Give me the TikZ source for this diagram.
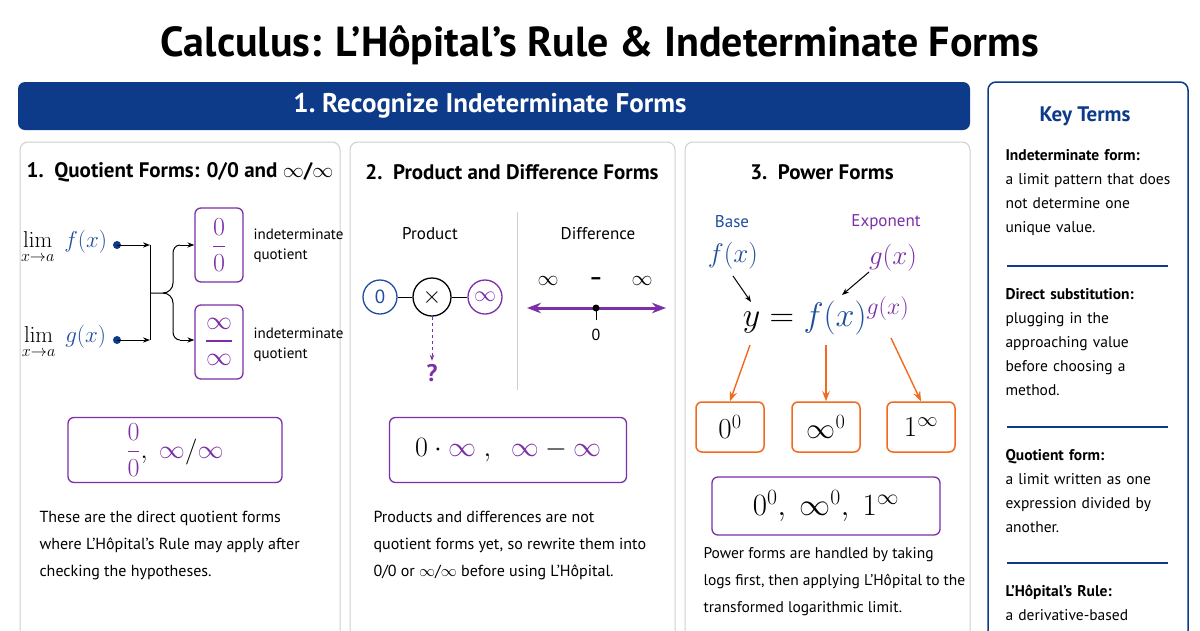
\RequirePackage{fix-cm}
\documentclass[tikz,border=0pt]{standalone}
\usepackage{amsmath,amssymb}
\usepackage[no-math]{fontspec}
\setmainfont{PT Sans}
\usepackage{tikz}
\usetikzlibrary{arrows.meta,positioning}
\definecolor{navy}{HTML}{0E3A8A}
\definecolor{fblue}{HTML}{1F4E9E}
\definecolor{vio}{HTML}{7B2FA8}
\definecolor{org}{HTML}{F26B1D}
\definecolor{pgray}{HTML}{CFCFCF}
\tikzset{
  panel/.style={draw=pgray,line width=1pt,rounded corners=8pt,fill=white},
  formbox/.style={draw=vio,line width=1.3pt,rounded corners=6pt},
  orbox/.style={draw=org,line width=1.5pt,rounded corners=6pt,minimum width=68pt,minimum height=50pt,font=\fontsize{29}{31}\selectfont},
  ptitle/.style={font=\fontsize{21}{24}\selectfont\bfseries},
  body/.style={font=\fontsize{16}{27}\selectfont,align=left,anchor=north west},
  small/.style={font=\fontsize{16}{19}\selectfont},
  term/.style={anchor=north west,align=left,font=\fontsize{15.5}{24}\selectfont,text width=185pt},
  arr/.style={-{Stealth[length=7pt]},line width=1pt},
  oarr/.style={-{Stealth[length=10pt]},line width=1.4pt,draw=org},
}
\begin{document}
\begin{tikzpicture}[x=1pt,y=-1pt]
  \useasboundingbox (0,0) rectangle (1200,630);
  \fill[white] (0,0) rectangle (1200,630);

  % title and banner
  \node[font=\fontsize{42}{46}\selectfont\bfseries] (title) at (600,45) {Calculus: L’Hôpital’s Rule \& Indeterminate Forms};
  \fill[navy,rounded corners=7pt] (18,82) rectangle (970,130);
  \node[white,font=\fontsize{27}{30}\selectfont\bfseries] (banner) at (490,106) {1.\ Recognize Indeterminate Forms};

  % panels
  \draw[panel] (20,142) rectangle (340,640);
  \draw[panel] (350,142) rectangle (675,640);
  \draw[panel] (685,142) rectangle (970,640);
  \draw[draw=navy,line width=1.5pt,rounded corners=8pt] (988,82) rectangle (1188,640);

  % panel 1: quotient forms
  \node[ptitle] (t1) at (180,172) {1.\ \ Quotient Forms: 0/0 and $\infty$/$\infty$};
  \node[font=\fontsize{23}{25}\selectfont] (limf) at (64,247) {$\lim\limits_{x\to a}\ \textcolor{fblue}{f(x)}$};
  \node[font=\fontsize{23}{25}\selectfont] (limg) at (64,342) {$\lim\limits_{x\to a}\ \textcolor{fblue}{g(x)}$};
  \fill[navy] (117,245) circle (4pt) coordinate (df);
  \fill[navy] (117,340) circle (4pt) coordinate (dg);
  \coordinate (jf) at (150,245);
  \coordinate (jg) at (150,340);
  \draw[arr] (df) -- (jf);
  \draw[arr] (dg) -- (jg);
  \draw[line width=1pt] (jf) -- (jg);
  \draw[line width=1pt] (150,293) -- (163,293) to[out=0,in=-90] (173,283) -- (173,253) to[out=90,in=180] (180,245);
  \draw[line width=1pt] (163,293) to[out=0,in=90] (173,303) -- (173,332) to[out=-90,in=180] (180,340);
  \node[formbox,minimum width=48pt,minimum height=74pt,font=\fontsize{26}{28}\selectfont,text=vio] (q1) at (219,245) {$\dfrac{0}{0}$};
  \node[formbox,minimum width=48pt,minimum height=74pt,font=\fontsize{26}{28}\selectfont,text=vio] (q2) at (219,342) {$\dfrac{\infty}{\infty}$};
  \draw[arr] (180,245) -- (q1.west);
  \draw[arr] (180,340) -- (q2.west|-0,340);
  \node[small,anchor=west,align=left,font=\fontsize{15}{20}\selectfont] (l1) at (250,246) {indeterminate\\quotient};
  \node[small,anchor=west,align=left,font=\fontsize{15}{20}\selectfont] (l2) at (250,345) {indeterminate\\quotient};
  \node[formbox,minimum width=214pt,minimum height=65pt,font=\fontsize{26}{28}\selectfont] (f1) at (175,450) {$\textcolor{vio}{\dfrac{0}{0}},\ \textcolor{vio}{\infty}/\textcolor{vio}{\infty}$};
  \node[body] (b1) at (36,508) {These are the direct quotient forms\\where L’Hôpital’s Rule may apply after\\checking the hypotheses.};

  % panel 2: product and difference
  \node[ptitle] (t2) at (512,172) {2.\ \ Product and Difference Forms};
  \node[small,font=\fontsize{17}{20}\selectfont] (prod) at (430,234) {Product};
  \node[small,font=\fontsize{17}{20}\selectfont] (diff) at (598,234) {Difference};
  \draw[pgray,line width=1pt] (517,212) -- (517,390);
  \node[circle,draw=fblue,line width=1.3pt,minimum size=34pt,text=fblue,font=\fontsize{19}{20}\selectfont] (c0) at (380,297) {0};
  \node[circle,draw=black,line width=1.3pt,minimum size=38pt,font=\fontsize{24}{24}\selectfont] (cx) at (432,297) {$\times$};
  \node[circle,draw=vio,line width=1.3pt,minimum size=34pt,text=vio,font=\fontsize{22}{22}\selectfont] (ci) at (485,297) {$\infty$};
  \draw[line width=1pt] (c0) -- (cx);
  \draw[line width=1pt] (cx) -- (ci);
  \node[text=vio,font=\fontsize{24}{26}\selectfont\bfseries] (qm) at (432,373) {?};
  \draw[vio,dashed,line width=1pt,-{Stealth[length=6pt]}] (cx.south) -- (qm.north);
  \coordinate (dl) at (527,308);
  \coordinate (dr) at (666,308);
  \draw[vio,line width=3pt,{Stealth[length=14pt]}-{Stealth[length=14pt]}] (dl) -- (dr);
  \draw[line width=1pt] (596,308) -- (596,320);
  \fill (596,308) circle (3.5pt);
  \node[small] (z0) at (596,335) {0};
  \node[font=\fontsize{21}{22}\selectfont] (il) at (548,281) {$\infty$};
  \node[font=\fontsize{20}{20}\selectfont\bfseries] (mn) at (596,281) {--};
  \node[font=\fontsize{21}{22}\selectfont] (ir) at (642,281) {$\infty$};
  \node[formbox,minimum width=237pt,minimum height=65pt,font=\fontsize{28}{30}\selectfont] (f2) at (508,450) {$0\cdot\textcolor{vio}{\infty}\ ,\ \ \textcolor{vio}{\infty}-\textcolor{vio}{\infty}$};
  \node[body] (b2) at (370,508) {Products and differences are not\\quotient forms yet, so rewrite them into\\0/0 or $\infty$/$\infty$ before using L’Hôpital.};

  % panel 3: power forms
  \node[ptitle] (t3) at (822,172) {3.\ \ Power Forms};
  \node[text=fblue,font=\fontsize{17}{20}\selectfont] (base) at (732,222) {Base};
  \node[text=vio,font=\fontsize{17}{20}\selectfont] (expo) at (886,222) {Exponent};
  \node[text=fblue,font=\fontsize{27}{29}\selectfont] (fx) at (733,256) {$f(x)$};
  \node[text=vio,font=\fontsize{27}{29}\selectfont] (gx) at (893,258) {$g(x)$};
  \node[font=\fontsize{34}{36}\selectfont] (eq) at (826,316) {$y=\textcolor{fblue}{f(x)}^{\textcolor{vio}{g(x)}}$};
  \draw[arr] (733,276) -- (751,302);
  \draw[arr] (869,272) -- (842,295);
  \node[orbox] (p1) at (730,427) {$0^0$};
  \node[orbox] (p2) at (826,427) {$\infty^0$};
  \node[orbox] (p3) at (921,427) {$1^\infty$};
  \draw[oarr] (750,345) -- (p1.north);
  \draw[oarr] (826,345) -- (p2.north);
  \draw[oarr] (891,338) -- (p3.north);
  \node[formbox,minimum width=228pt,minimum height=58pt,font=\fontsize{31}{33}\selectfont] (f3) at (826,506) {$0^0,\ \infty^0,\ 1^\infty$};
  \node[body,font=\fontsize{15.5}{27}\selectfont] (b3) at (700,544) {Power forms are handled by taking\\logs first, then applying L’Hôpital to the\\transformed logarithmic limit.};

  % key terms
  \node[text=navy,font=\fontsize{21}{24}\selectfont\bfseries] (kt) at (1085,116) {Key Terms};
  \node[term] (k1) at (1002,146) {\textbf{Indeterminate form:}\\a limit pattern that does\\not determine one\\unique value.};
  \draw[navy,line width=1.2pt] (1007,266) -- (1168,266);
  \node[term] (k2) at (1002,285) {\textbf{Direct substitution:}\\plugging in the\\approaching value\\before choosing a\\method.};
  \draw[navy,line width=1.2pt] (1007,427) -- (1168,427);
  \node[term] (k3) at (1002,446) {\textbf{Quotient form:}\\a limit written as one\\expression divided by\\another.};
  \draw[navy,line width=1.2pt] (1007,563) -- (1168,563);
  \node[term] (k4) at (1002,582) {\textbf{L’Hôpital’s Rule:}\\a derivative-based};
\end{tikzpicture}
\end{document}
